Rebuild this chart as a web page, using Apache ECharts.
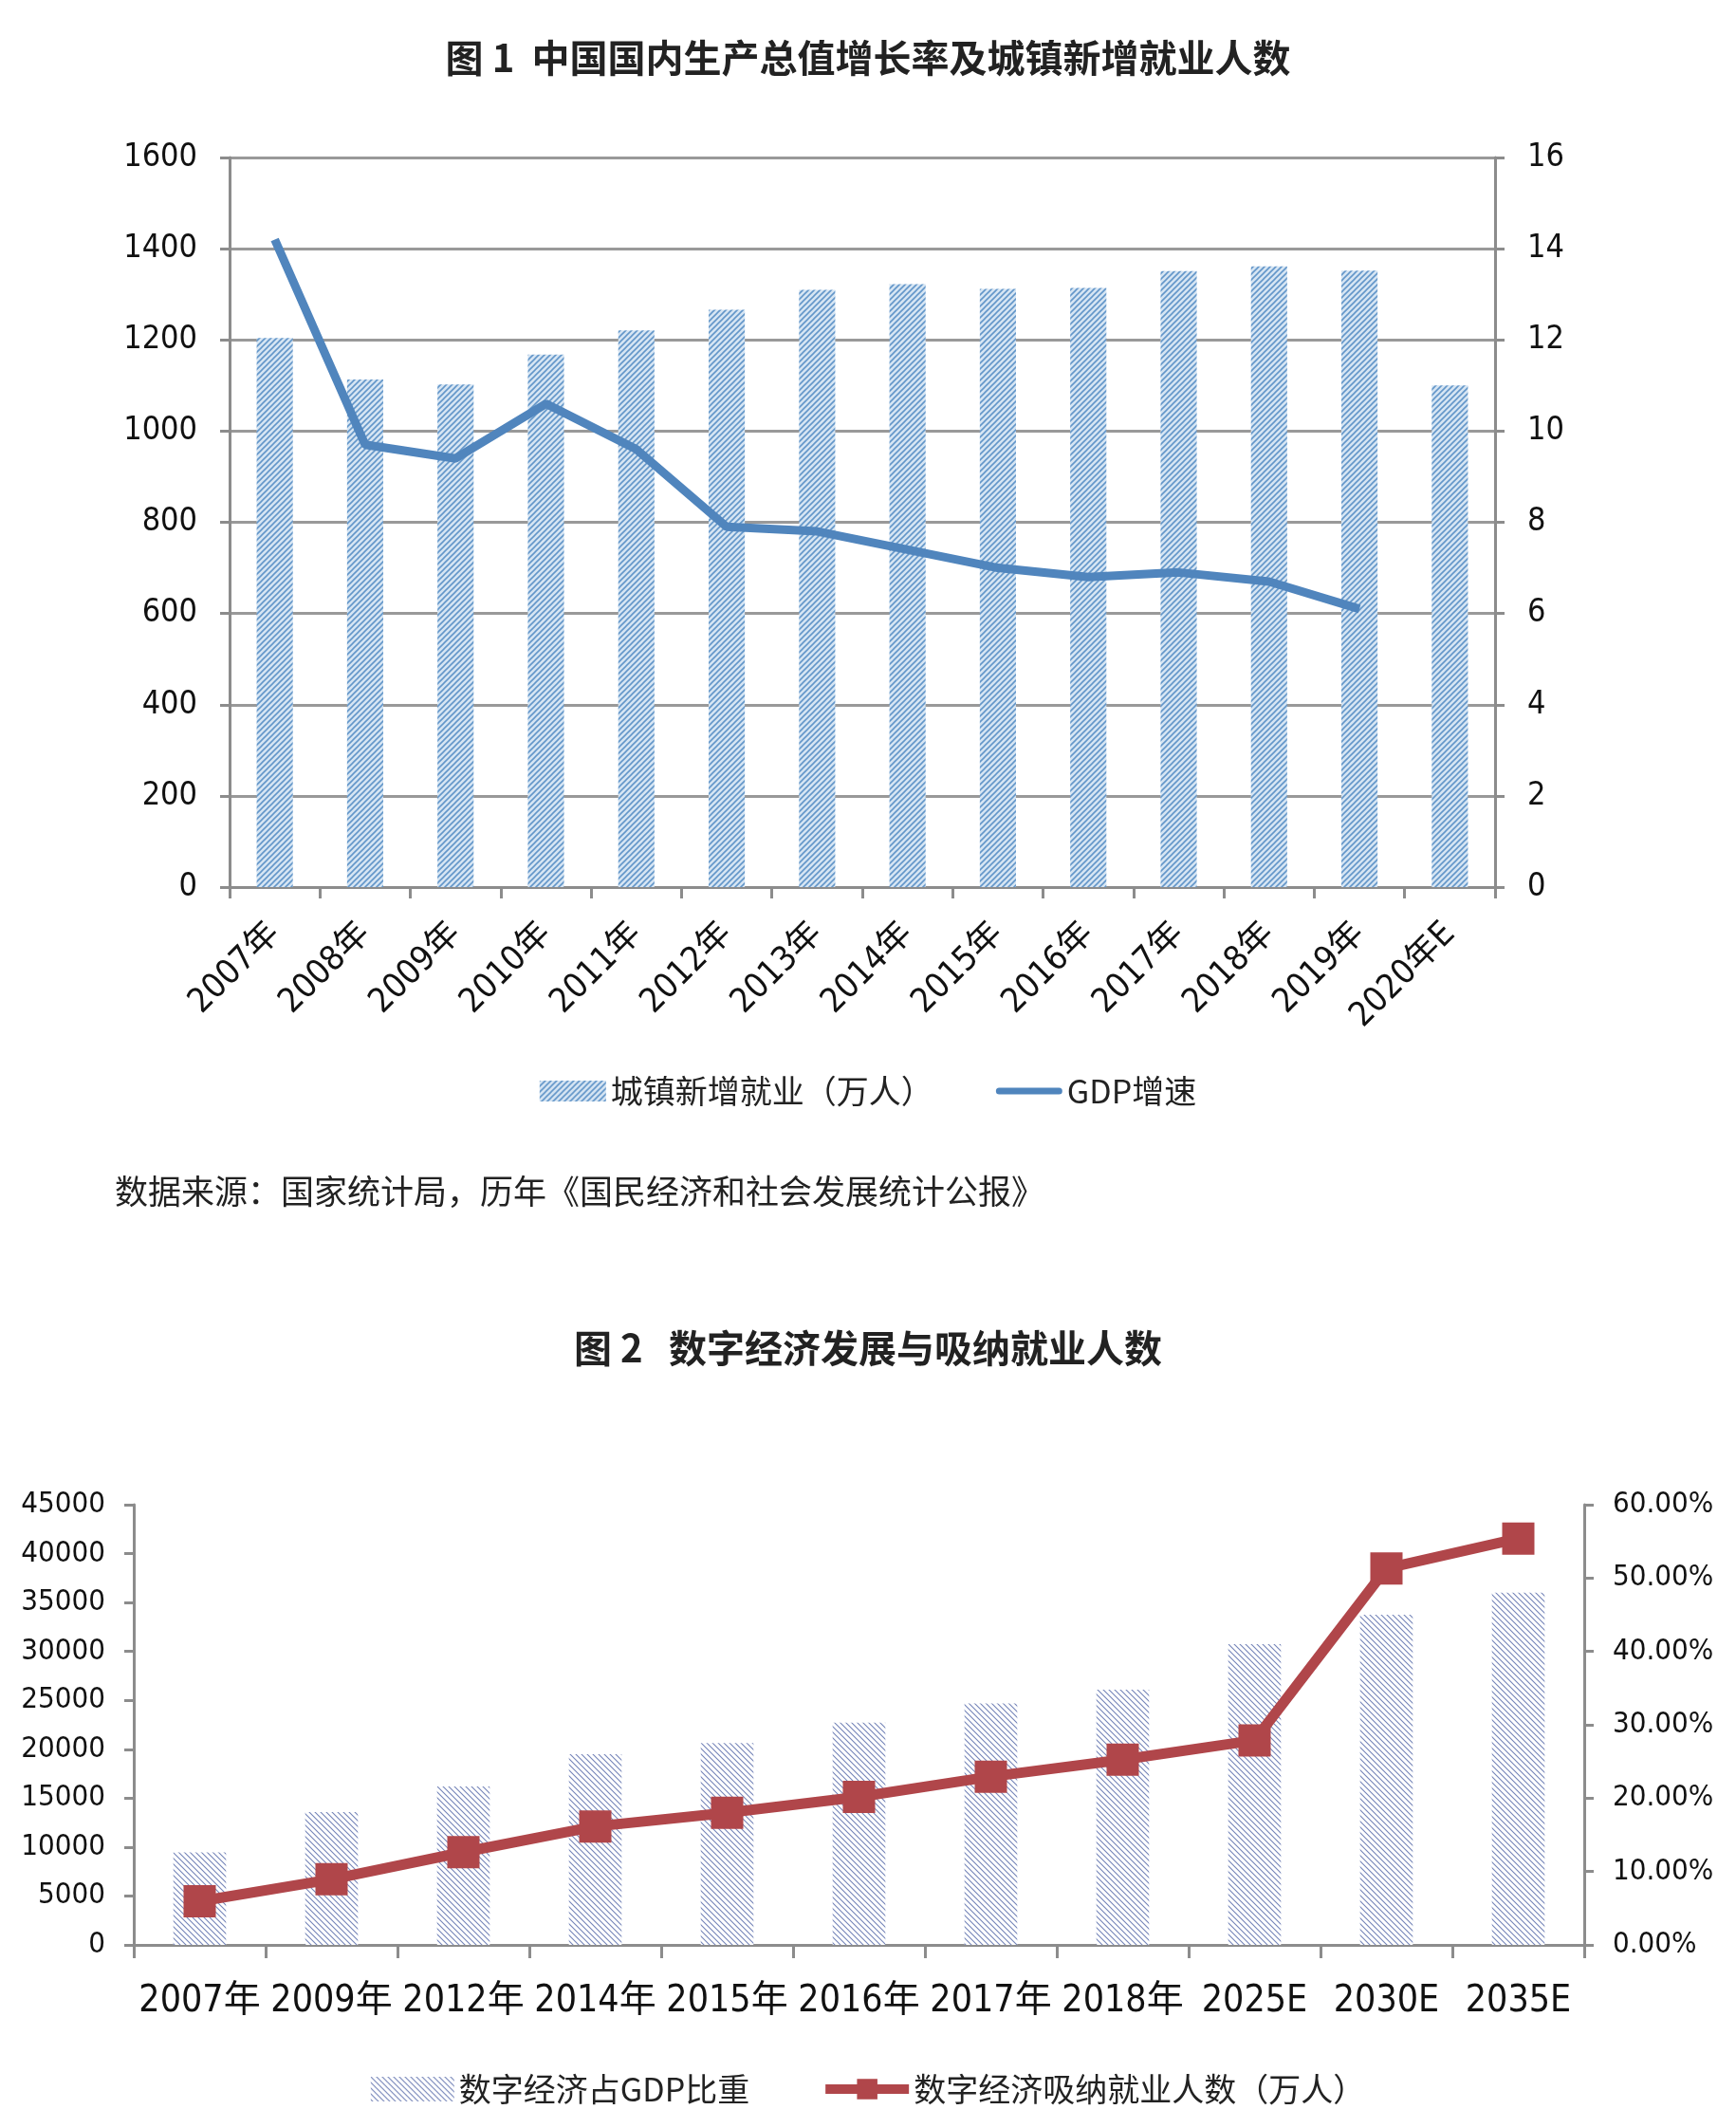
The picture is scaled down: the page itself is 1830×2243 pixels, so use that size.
<!DOCTYPE html>
<html>
<head>
<meta charset="utf-8">
<script src="https://cdn.jsdelivr.net/npm/echarts@6/dist/echarts.min.js"></script>
<style>
html,body{margin:0;padding:0;background:#fff;}
#c{width:1830px;height:2243px;}
</style>
</head>
<body>
<div id="c"></div>
<script>
// ---------- Chart 1 data ----------
const years1 = ['2007年','2008年','2009年','2010年','2011年','2012年','2013年','2014年','2015年','2016年','2017年','2018年','2019年','2020年E'];
const urbanJobs = [1204, 1113, 1102, 1168, 1221, 1266, 1310, 1322, 1312, 1314, 1351, 1361, 1352, 1100];
const gdpGrowth = [14.2, 9.7, 9.4, 10.6, 9.6, 7.9, 7.8, 7.4, 7.0, 6.8, 6.9, 6.7, 6.1, null];
const leftTicks1 = {min: 0, max: 1600, interval: 200};
const rightTicks1 = {min: 0, max: 16, interval: 2};

// ---------- Chart 2 data ----------
const years2 = ['2007年','2009年','2012年','2014年','2015年','2016年','2017年','2018年','2025E','2030E','2035E'];
const digitalShare = [12.6, 18.1, 21.6, 26.0, 27.5, 30.3, 32.9, 34.8, 41.0, 45.0, 48.0];
const digitalJobs = [4460, 6710, 9480, 12110, 13500, 15130, 17200, 18930, 20910, 38490, 41540];
const leftTicks2 = {min: 0, max: 45000, interval: 5000};
const rightTicks2 = {min: 0, max: 60, interval: 10};

const title1 = '图 1  中国国内生产总值增长率及城镇新增就业人数';
const title2 = '图 2   数字经济发展与吸纳就业人数';
const sourceText = '数据来源：国家统计局，历年《国民经济和社会发展统计公报》';

function hatch(bg, fg, size, lw, dir) {
  const c = document.createElement('canvas');
  c.width = size; c.height = size;
  const g = c.getContext('2d');
  g.fillStyle = bg; g.fillRect(0, 0, size, size);
  g.strokeStyle = fg; g.lineWidth = lw;
  g.beginPath();
  if (dir === '/') {
    g.moveTo(0, size); g.lineTo(size, 0);
    g.moveTo(-size/2, size/2); g.lineTo(size/2, -size/2);
    g.moveTo(size/2, size*1.5); g.lineTo(size*1.5, size/2);
  } else {
    g.moveTo(0, 0); g.lineTo(size, size);
    g.moveTo(-size/2, size/2); g.lineTo(size/2, size*1.5);
    g.moveTo(size/2, -size/2); g.lineTo(size*1.5, size/2);
  }
  g.stroke();
  return c;
}
const pat1 = {image: hatch('#d6e5f3', '#6396c9', 6, 1.6, '/'), repeat: 'repeat'};
const pat2 = {image: hatch('#ffffff', '#7484b8', 6, 1.1, '\\'), repeat: 'repeat'};

const NUM = "'DejaVu Sans Condensed','Liberation Sans Narrow','Noto Sans','Noto Sans CJK SC',sans-serif";
const CJK = "'Noto Sans CJK SC','Noto Sans',sans-serif";
const axisGray = '#8c8c8c';
const plain = v => String(v);

const gdpIcon = 'path://M4,0 L76,0 A4,4 0 0 1 76,8 L4,8 A4,4 0 0 1 4,0 Z';
const jobsIcon = 'path://M0,6 L34,6 L34,0 L56,0 L56,6 L90,6 L90,16 L56,16 L56,22 L34,22 L34,16 L0,16 Z';

const chart = echarts.init(document.getElementById('c'), null, {renderer: 'canvas'});
chart.setOption({
  backgroundColor: '#fff',
  animation: false,
  title: [
    {text: title1, left: 'center', top: 36, textStyle: {fontFamily: CJK, fontSize: 40, fontWeight: 'bold', color: '#222'}},
    {text: title2, left: 'center', top: 1396, textStyle: {fontFamily: CJK, fontSize: 40, fontWeight: 'bold', color: '#222'}}
  ],
  graphic: [
    {type: 'text', left: 121, top: 1238, style: {text: sourceText, fontFamily: CJK, fontSize: 35, fill: '#222'}}
  ],
  legend: [
    {
      top: 1128, left: 'center', itemWidth: 70, itemHeight: 22, itemGap: 66,
      data: [{name: '城镇新增就业（万人）', icon: 'rect'}, {name: 'GDP增速', icon: gdpIcon}],
      textStyle: {fontFamily: CJK, fontSize: 34, color: '#222'}
    },
    {
      top: 2180, left: 'center', itemWidth: 88, itemHeight: 26, itemGap: 80,
      data: [{name: '数字经济占GDP比重', icon: 'rect'}, {name: '数字经济吸纳就业人数（万人）', icon: jobsIcon}],
      textStyle: {fontFamily: CJK, fontSize: 34, color: '#222'}
    }
  ],
  grid: [
    {left: 242, top: 166, width: 1334, height: 769, containLabel: false},
    {left: 141, top: 1586, width: 1529, height: 464, containLabel: false}
  ],
  xAxis: [
    {
      type: 'category', gridIndex: 0, data: years1,
      axisLine: {lineStyle: {color: axisGray, width: 3}},
      axisTick: {show: true, length: 12, lineStyle: {color: axisGray, width: 3}},
      axisLabel: {rotate: 45, interval: 0, margin: 44, fontFamily: NUM, fontSize: 36, color: '#111'}
    },
    {
      type: 'category', gridIndex: 1, data: years2,
      axisLine: {lineStyle: {color: axisGray, width: 3}},
      axisTick: {show: true, length: 14, lineStyle: {color: axisGray, width: 3}},
      axisLabel: {interval: 0, margin: 40, fontFamily: NUM, fontSize: 39, color: '#111'}
    }
  ],
  yAxis: [
    {
      type: 'value', gridIndex: 0, position: 'left',
      min: leftTicks1.min, max: leftTicks1.max, interval: leftTicks1.interval,
      axisLine: {show: true, lineStyle: {color: axisGray, width: 3}},
      axisTick: {show: true, length: 10, lineStyle: {color: axisGray, width: 3}},
      splitLine: {show: true, lineStyle: {color: '#999', width: 3}},
      axisLabel: {margin: 34, fontFamily: NUM, fontSize: 34, color: '#111', formatter: plain}
    },
    {
      type: 'value', gridIndex: 0, position: 'right',
      min: rightTicks1.min, max: rightTicks1.max, interval: rightTicks1.interval,
      axisLine: {show: true, lineStyle: {color: axisGray, width: 3}},
      axisTick: {show: true, length: 10, lineStyle: {color: axisGray, width: 3}},
      splitLine: {show: false},
      axisLabel: {margin: 34, fontFamily: NUM, fontSize: 34, color: '#111', formatter: plain}
    },
    {
      type: 'value', gridIndex: 1, position: 'left',
      min: leftTicks2.min, max: leftTicks2.max, interval: leftTicks2.interval,
      axisLine: {show: true, lineStyle: {color: axisGray, width: 3}},
      axisTick: {show: true, length: 10, lineStyle: {color: axisGray, width: 3}},
      splitLine: {show: false},
      axisLabel: {margin: 30, fontFamily: NUM, fontSize: 31, color: '#111', formatter: plain}
    },
    {
      type: 'value', gridIndex: 1, position: 'right',
      min: rightTicks2.min, max: rightTicks2.max, interval: rightTicks2.interval,
      axisLine: {show: true, lineStyle: {color: axisGray, width: 3}},
      axisTick: {show: true, length: 10, lineStyle: {color: axisGray, width: 3}},
      splitLine: {show: false},
      axisLabel: {margin: 30, fontFamily: NUM, fontSize: 31, color: '#111',
        formatter: v => v.toFixed(2) + '%'}
    }
  ],
  series: [
    {
      name: '城镇新增就业（万人）', type: 'bar', xAxisIndex: 0, yAxisIndex: 0,
      data: urbanJobs, barWidth: '40%', itemStyle: {color: pat1}
    },
    {
      name: 'GDP增速', type: 'line', xAxisIndex: 0, yAxisIndex: 1,
      data: gdpGrowth, symbol: 'none', lineStyle: {width: 9, color: '#5085bd'},
      itemStyle: {color: '#5085bd'}
    },
    {
      name: '数字经济占GDP比重', type: 'bar', xAxisIndex: 1, yAxisIndex: 3,
      data: digitalShare, barWidth: '40%', itemStyle: {color: pat2}
    },
    {
      name: '数字经济吸纳就业人数（万人）', type: 'line', xAxisIndex: 1, yAxisIndex: 2,
      data: digitalJobs, symbol: 'rect', symbolSize: 34,
      lineStyle: {width: 11, color: '#b0464a'}, itemStyle: {color: '#b0464a'}
    }
  ]
});
</script>
</body>
</html>
